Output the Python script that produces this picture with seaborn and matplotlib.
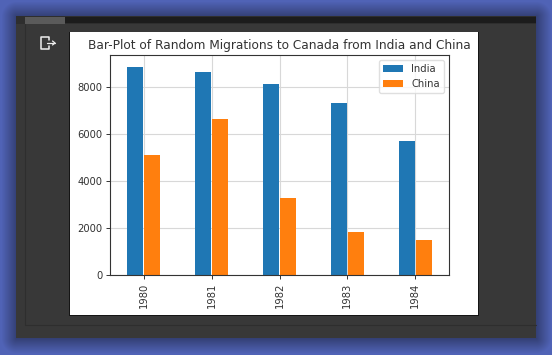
import numpy as np
import pandas as pd
import matplotlib
matplotlib.use("Agg")
import matplotlib.pyplot as plt
from matplotlib.patches import Rectangle
import seaborn as sns

# data
years = ["1980", "1981", "1982", "1983", "1984"]
india = [8860, 8650, 8130, 7320, 5690]
china = [5100, 6640, 3290, 1850, 1510]
countries = ["India", "China"]

df = pd.DataFrame({"Year": years * 2,
                   "Country": ["India"] * 5 + ["China"] * 5,
                   "Migrants": india + china})

sns.set_theme(style="whitegrid")

W, H = 552, 355
fig = plt.figure(figsize=(W / 100, H / 100), dpi=100)

# backdrop in pixel coordinates
bg = fig.add_axes([0, 0, 1, 1])
bg.set_xlim(0, W)
bg.set_ylim(H, 0)
bg.axis("off")

xx, yy = np.meshgrid(np.arange(W), np.arange(H))
dx = np.maximum(np.maximum(16 - xx, xx - 536), 0)
dy = np.maximum(np.maximum(16 - yy, yy - 338), 0)
dist = np.hypot(dx, dy)
shade = 0.68 + 0.37 * np.clip(dist / 15, 0, 1)
base = np.array([0.30, 0.37, 0.68])
img = np.clip(shade[..., None] * base, 0, 1)
bg.imshow(img, extent=(0, W, H, 0), aspect="auto", interpolation="bilinear")

bg.add_patch(Rectangle((16, 16), 520, 322, color="#383838", lw=0))
bg.add_patch(Rectangle((16, 16), 520, 8, color="#2e2e2e", lw=0))
bg.add_patch(Rectangle((65, 17), 471, 6, color="#1c1c1c", lw=0))
bg.add_patch(Rectangle((25, 17), 40, 7, color="#5a5a5a", lw=0))
bg.plot([25, 25, 536], [24, 325, 325], color="#2e2e2e", lw=0.8)
bg.add_patch(Rectangle((69, 32), 410, 283.5, color="#151515", lw=0))
bg.add_patch(Rectangle((70, 32), 408, 283, color="white", lw=0))

# output icon
bg.plot([49, 49, 41, 41, 49, 49], [40, 37, 37, 49, 49, 46], color="#eeeeee", lw=1.1)
bg.plot([47, 55], [43, 43], color="#eeeeee", lw=0.9)
bg.plot([52.5, 55, 52.5], [41, 43, 45], color="#eeeeee", lw=0.9)
bg.set_xlim(0, W)
bg.set_ylim(H, 0)

# chart
ax = fig.add_axes([110 / W, 1 - 275 / H, 339 / W, 220 / H])
sns.barplot(data=df, x="Year", y="Migrants", hue="Country", hue_order=countries,
            palette=["#1f77b4", "#ff7f0e"], width=0.5, gap=0.06, saturation=1,
            linewidth=0, ax=ax)

ax.set_facecolor("white")
ax.set_xlim(-0.5, 4.5)
ax.set_ylim(0, 9362)
ax.set_yticks([0, 2000, 4000, 6000, 8000])
ax.set_xlabel("")
ax.set_ylabel("")
ax.set_axisbelow(True)
ax.grid(True, axis="both", color="#d8d8d8", lw=0.8)
for s in ax.spines.values():
    s.set_color("#333333")
    s.set_linewidth(0.8)
ax.tick_params(axis="both", labelsize=7.2, colors="#333333", length=3, width=0.7,
               bottom=True, left=True, pad=2.5)
ax.tick_params(axis="x", rotation=90)

ax.legend(loc="upper right", fontsize=7.2, labelcolor="#333333", frameon=True,
          facecolor="white", edgecolor="#d8d8d8", title=None)

fig.text(279.5 / W, 1 - 45 / H, "Bar-Plot of Random Migrations to Canada from India and China",
         ha="center", va="center", fontsize=8.7, color="#333333")

plt.savefig("out.png", dpi=100)
